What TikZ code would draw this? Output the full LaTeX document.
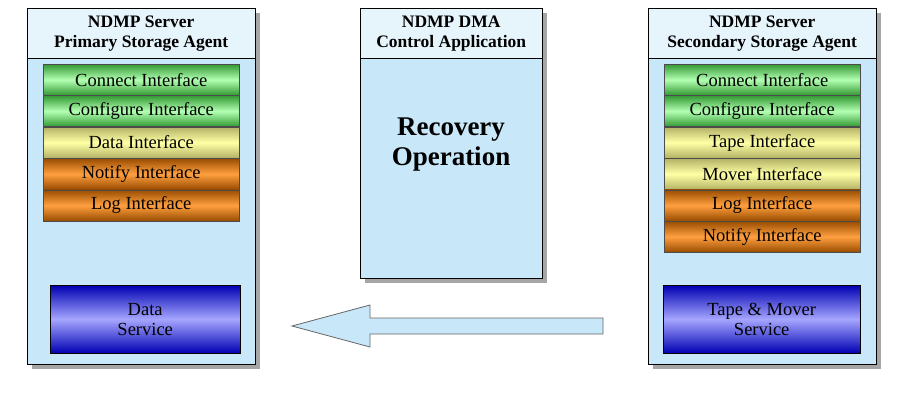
\documentclass[tikz,border=0pt]{standalone}
\usepackage{fontspec}
\setmainfont{Liberation Serif}
\usetikzlibrary{shadows}
\definecolor{panel}{RGB}{200,232,250}
\definecolor{head}{RGB}{230,244,252}
\tikzset{
 x=1pt,y=-1pt,
 panelbox/.style={draw=black,fill=panel,drop shadow={shadow xshift=5pt,shadow yshift=-5pt,fill=gray!70,opacity=1}},
 headbox/.style={draw=black,fill=head,font=\bfseries\fontsize{17.5}{20}\selectfont,align=center},
 bar/.style={draw=black!70,minimum width=196pt,minimum height=31pt,inner sep=0pt,font=\fontsize{18.5}{19}\selectfont},
 gbar/.style={bar,top color=green!50!black!80,bottom color=green!50!black!80,middle color=green!30},
 ybar/.style={bar,top color=yellow!50!black!60,bottom color=yellow!50!black!60,middle color=yellow!35},
 obar/.style={bar,top color=orange!60!black,bottom color=orange!60!black,middle color=orange!75},
 svc/.style={draw=black,top color=blue!70!black,bottom color=blue!70!black,middle color=blue!35,align=center,font=\fontsize{18.5}{20}\selectfont,inner sep=0pt},
}
\begin{document}
\begin{tikzpicture}
\useasboundingbox (0,0) rectangle (909,410);
% left
\node[panelbox,minimum width=228pt,minimum height=356pt,inner sep=0pt,anchor=north west] (lp) at (27,8) {};
\node[headbox,minimum width=228pt,minimum height=50pt,inner sep=0pt,anchor=north west] (lh) at (27,8) {NDMP Server\\Primary Storage Agent};
\node[gbar,anchor=north west] (l1) at (43,64) {Connect Interface};
\node[gbar,anchor=north] (l2) at (l1.south) {Configure Interface};
\node[ybar,anchor=north] (l3) at (l2.south) {Data Interface};
\node[obar,anchor=north] (l4) at (l3.south) {Notify Interface};
\node[obar,anchor=north] (l5) at (l4.south) {Log Interface};
\node[svc,minimum width=190pt,minimum height=68pt,anchor=north west] (ls) at (50,285) {Data\\Service};
% middle
\node[panelbox,minimum width=182pt,minimum height=270pt,inner sep=0pt,anchor=north west] (mp) at (360,8) {};
\node[headbox,minimum width=182pt,minimum height=50pt,inner sep=0pt,anchor=north west] (mh) at (360,8) {NDMP DMA\\Control Application};
\node[font=\bfseries\fontsize{27}{30}\selectfont,align=center] (rec) at (451,145) {Recovery\\Operation};
% right
\node[panelbox,minimum width=228pt,minimum height=356pt,inner sep=0pt,anchor=north west] (rp) at (648,8) {};
\node[headbox,minimum width=228pt,minimum height=50pt,inner sep=0pt,anchor=north west] (rh) at (648,8) {NDMP Server\\Secondary Storage Agent};
\node[gbar,anchor=north west] (r1) at (664,64) {Connect Interface};
\node[gbar,anchor=north] (r2) at (r1.south) {Configure Interface};
\node[ybar,anchor=north] (r3) at (r2.south) {Tape Interface};
\node[ybar,anchor=north] (r4) at (r3.south) {Mover Interface};
\node[obar,anchor=north] (r5) at (r4.south) {Log Interface};
\node[obar,anchor=north] (r6) at (r5.south) {Notify Interface};
\node[svc,minimum width=197pt,minimum height=68pt,anchor=north west] (rs) at (663,285) {Tape \& Mover\\Service};
% arrow
\draw[draw=black!60,fill=panel,line width=0.8pt] (603,318) -- (370,318) -- (370,305) -- (292,326) -- (370,347) -- (370,334) -- (603,334) -- cycle;
\end{tikzpicture}
\end{document}
